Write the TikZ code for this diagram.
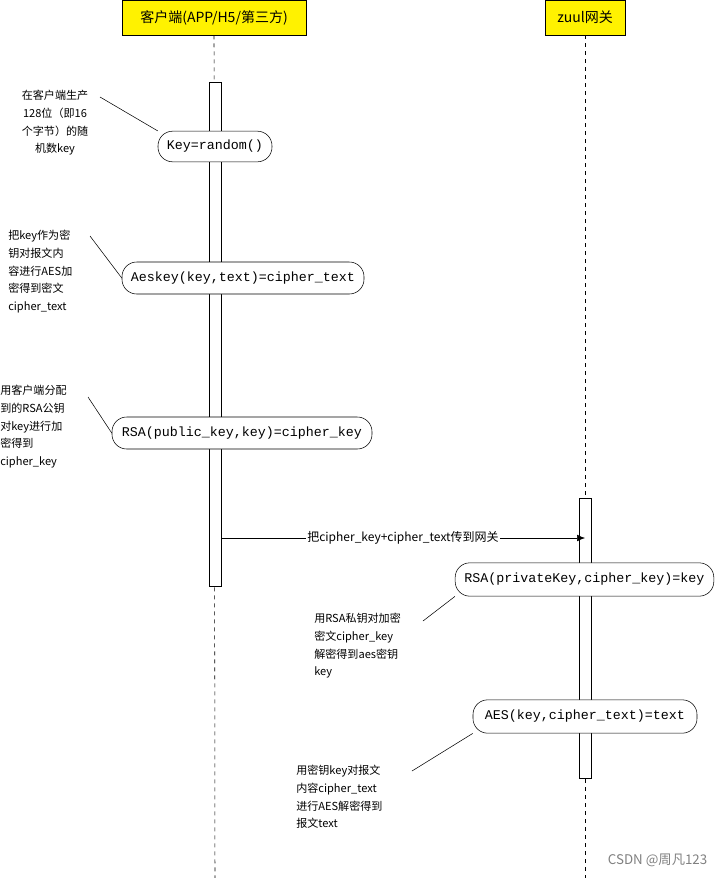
\documentclass[tikz,border=0pt]{standalone}
\usepackage{fontspec}
\setmainfont{Noto Sans CJK SC}
\newfontfamily\monof{Liberation Mono}
\usetikzlibrary{arrows.meta}
\begin{document}
\begin{tikzpicture}[x=0.75pt,y=-0.75pt,
  hdr/.style={draw,fill=yellow,minimum height=26.25pt,inner sep=2pt,font=\fontsize{10.5}{12}\selectfont},
  act/.style={draw,fill=white},
  op/.style={draw,rounded corners=11pt,fill=white,font=\monof\fontsize{10}{12}\selectfont,inner sep=0pt},
  note/.style={align=left,font=\fontsize{8.3}{13.3}\selectfont,inner sep=0pt,anchor=north west},
  life/.style={dashed,thin}]
\useasboundingbox (0,0) rectangle (716,878);
\node[hdr,minimum width=138pt] (c) at (214,17.5) {客户端(APP/H5/第三方)};
\node[hdr,minimum width=60pt] (z) at (585,17.5) {zuul网关};
\coordinate (cb) at (215,878);
\coordinate (zb) at (585,878);
\draw[life] (c.south) -- (cb);
\draw[life] (z.south) -- (zb);
\draw[act] (209,82) rectangle (221,586);
\draw[act] (579,498) rectangle (591,778);
\node[op,minimum width=85.5pt,minimum height=23pt] (k) at (215,146.5) {Key=random()};
\node[op,minimum width=181.5pt,minimum height=24pt] (a) at (243,278) {Aeskey(key,text)=cipher\_text};
\node[op,minimum width=195pt,minimum height=24pt] (r) at (242,433) {RSA(public\_key,key)=cipher\_key};
\node[op,minimum width=194pt,minimum height=25pt] (p) at (584.5,579.5) {RSA(privateKey,cipher\_key)=key};
\node[op,minimum width=168pt,minimum height=25pt] (e) at (585,716.5) {AES(key,cipher\_text)=text};
\coordinate (s) at (221,538);
\coordinate (t) at (585,538);
\draw[-{Latex[length=6pt,width=5pt]}] (s) -- node[fill=white,inner sep=1pt,font=\fontsize{9}{11}\selectfont] (ml) {把cipher\_key+cipher\_text传到网关} (t);
\node[note,align=center,anchor=north] (n1) at (55,90) {在客户端生产\\ 128位（即16\\ 个字节）的随\\ 机数key};
\node[note] (n2) at (8,230) {把key作为密\\ 钥对报文内\\ 容进行AES加\\ 密得到密文\\ cipher\_text};
\node[note] (n3) at (0,385) {用客户端分配\\ 到的RSA公钥\\ 对key进行加\\ 密得到\\ cipher\_key};
\node[note] (n4) at (314,613) {用RSA私钥对加密\\ 密文cipher\_key\\ 解密得到aes密钥\\ key};
\node[note] (n5) at (296,765) {用密钥key对报文\\ 内容cipher\_text\\ 进行AES解密得到\\ 报文text};
\coordinate (l1) at (100,97); \draw (l1) -- (k.north west);
\coordinate (l2) at (90,236); \draw (l2) -- (a.west);
\coordinate (l3) at (88,397); \draw (l3) -- (r.west);
\coordinate (l4) at (423,621); \draw (l4) -- (p.south west);
\coordinate (l5) at (412,771); \draw (l5) -- (e.south west);
\node[anchor=south east,text=gray,font=\fontsize{10}{12}\selectfont] (wm) at (712,872) {CSDN @周凡123};
\end{tikzpicture}
\end{document}
